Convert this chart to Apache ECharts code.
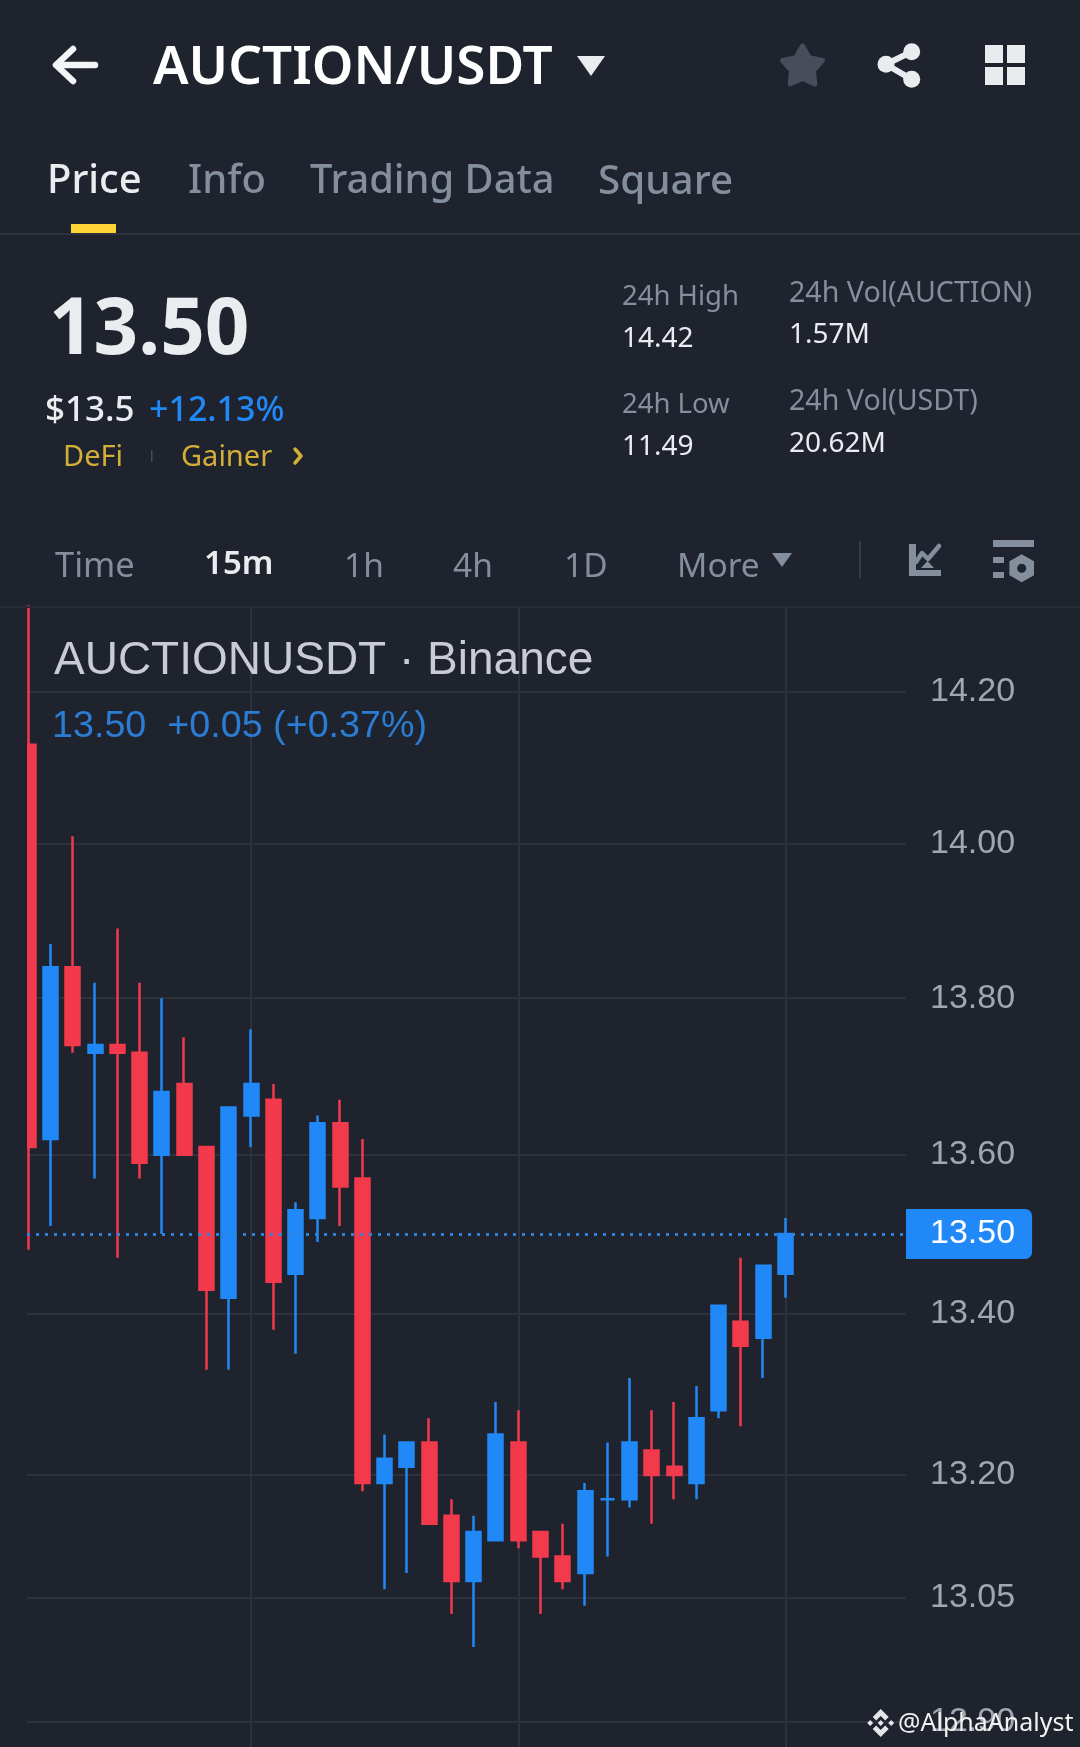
<!DOCTYPE html>
<html><head><meta charset="utf-8">
<style>html,body{margin:0;padding:0;background:#1e232e}#c{width:1080px;height:1747px}</style>
<script src="https://cdn.jsdelivr.net/npm/echarts@6/dist/echarts.min.js"></script>
</head><body><div id="c"></div>
<script>
const slots  = [0,1,2,3,4,5,6,7,8,9,10,11,12,13,14,15,16,17,18,19,20,21,22,23,24,25,26,27,28,29,30,31,32,33,34];
const opens  = [14.13,13.62,13.84,13.73,13.74,13.73,13.60,13.69,13.61,13.42,13.65,13.67,13.45,13.52,13.64,13.57,13.19,13.21,13.24,13.15,13.07,13.12,13.24,13.13,13.10,13.08,13.17,13.17,13.23,13.21,13.19,13.28,13.39,13.37,13.45];
const closes = [13.61,13.84,13.74,13.74,13.73,13.59,13.68,13.60,13.43,13.66,13.69,13.44,13.53,13.64,13.56,13.19,13.22,13.24,13.14,13.07,13.13,13.25,13.12,13.10,13.07,13.18,13.17,13.24,13.20,13.20,13.27,13.41,13.36,13.46,13.50];
const lows   = [13.48,13.51,13.73,13.57,13.47,13.57,13.50,13.60,13.33,13.33,13.61,13.38,13.35,13.49,13.51,13.18,13.06,13.08,13.14,13.03,12.99,13.12,13.11,13.03,13.06,13.04,13.10,13.16,13.14,13.17,13.17,13.27,13.26,13.32,13.42];
const highs  = [14.315,13.87,14.01,13.82,13.89,13.82,13.80,13.75,13.61,13.66,13.76,13.69,13.54,13.65,13.67,13.62,13.25,13.24,13.27,13.17,13.15,13.29,13.28,13.13,13.14,13.19,13.24,13.32,13.28,13.29,13.31,13.41,13.47,13.46,13.52];
const priceTicks = [12.9,13.05,13.2,13.4,13.6,13.8,14.0,14.2];
const timeTicks  = [10,22,34];
const lastPrice  = 13.5;

const BG='#1e232e', UP='#2089f7', DOWN='#f23a4c', GRID='#2c313c';
const SANS='"Noto Sans"', HELV='"Liberation Sans"';
const candles = slots.map((s,i)=>[s,opens[i],closes[i],lows[i],highs[i]]);

function t(x,y,text,size,fill,weight,family,align){
  return {type:'text',x,y,z:20,silent:true,style:{text,fill,font:(weight||400)+' '+size+'px '+(family||SANS),verticalAlign:'middle',align:align||'left'}};
}
function poly(points,fill){return {type:'polygon',z:20,silent:true,shape:{points},style:{fill}};}
function rect(x,y,w,h,fill,r){return {type:'rect',z:20,silent:true,shape:{x,y,width:w,height:h,r:r||0},style:{fill}};}
function line(pts,stroke,w){return {type:'polyline',z:20,silent:true,shape:{points:pts},style:{stroke,lineWidth:w,fill:'none',lineCap:'round',lineJoin:'round'}};}
function circ(cx,cy,r,fill){return {type:'circle',z:20,silent:true,shape:{cx,cy,r},style:{fill}};}

const GRAY='#848e9c', WHITE='#eaecef', GOLD='#d3ae39', ICON='#848e9c', LIGHT='#e9ebef';
const starPts=[];for(let i=0;i<10;i++){const a=-Math.PI/2+i*Math.PI/5,r=i%2?11.5:21;starPts.push([802.5+r*Math.cos(a),67+r*Math.sin(a)]);}
const star={type:'polygon',z:20,silent:true,shape:{points:starPts},style:{fill:'#474d5a',stroke:'#474d5a',lineWidth:5,lineJoin:'round'}};
const diamond=(cx,cy,r,c)=>poly([[cx,cy-r],[cx+r,cy],[cx,cy+r],[cx-r,cy]],c);
const WM='#e4e6ea', lx=880.7, ly=1723;

const graphics=[
  // left clip of the first candle
  rect(0,607,27,1140,BG),
  // header
  line([[73,49],[56,65],[73,81]],'#f4f5f7',6.5), line([[57,65],[95,65]],'#f4f5f7',6.5),
  t(153,69,'AUCTION/USDT',53,'#ffffff',600),
  poly([[577,56],[605,56],[591,76]],WHITE),
  star,
  line([[911.7,51.7],[886,64.3],[911.7,79.3]],LIGHT,6), circ(911.7,51.7,8.5,LIGHT), circ(886,64.3,8.5,LIGHT), circ(911.7,79.3,8.5,LIGHT),
  rect(985,45,18,18,LIGHT),rect(1007,45,18,18,LIGHT),rect(985,67,18,18,LIGHT),rect(1007,67,18,18,LIGHT),
  // tabs
  t(47,182,'Price',40,WHITE,500), t(188,182,'Info',40,GRAY,500), t(310,182,'Trading Data',39.8,GRAY,500), t(598,182,'Square',40.4,GRAY,500),
  rect(71,224,45,9,'#fcd535'), rect(0,233,1080,2,'#2d323c'),
  // price block
  t(49,332,'13.50',78,WHITE,700),
  t(45,411,'$13.5',35,WHITE,500), t(149,411,'+12.13%',34,UP,500),
  t(63,458,'DeFi',29,GOLD), rect(151,450,1.5,12,'#474d57'), t(181,458,'Gainer',29,GOLD),
  line([[295,449],[301,456],[295,463]],GOLD,3.5),
  t(622,297,'24h High',27.5,GRAY), t(622,339,'14.42',28,WHITE), t(622,405,'24h Low',27.5,GRAY), t(622,447,'11.49',28,WHITE),
  t(789,294,'24h Vol(AUCTION)',28.6,GRAY), t(789,335,'1.57M',28,WHITE), t(789,402,'24h Vol(USDT)',28.6,GRAY), t(789,444,'20.62M',28,WHITE),
  // timeframes
  t(55,567,'Time',34.5,GRAY), t(204,565,'15m',33,WHITE,600), t(344,567,'1h',33.5,GRAY), t(453,567,'4h',33.5,GRAY), t(564,567,'1D',33.5,GRAY), t(677,567,'More',33.5,GRAY),
  poly([[772,553],[792,553],[782,567]],GRAY),
  rect(859,541,2,37,'#363b46'),
  rect(909,544,7,32,ICON), rect(909,570,32,6,ICON), line([[916,562],[922,553],[928,559],[939,546]],ICON,4.5), poly([[921,568],[934,568],[927.5,561]],ICON),
  rect(993,540,41,7,ICON), rect(993,557,11,6,ICON), rect(993,572,11,6,ICON),
  poly([[1021.7,554.3],[1034,561.3],[1034,575.3],[1021.7,582.3],[1009.4,575.3],[1009.4,561.3]],ICON), circ(1021.7,568.3,4.5,BG),
  rect(0,606,1080,2,'#252a35'),
  // chart legend
  t(54,661,'AUCTIONUSDT · Binance',46,'#c9cdd3',400,HELV),
  t(52,727,'13.50  +0.05 (+0.37%)',37.7,'#2b7cd3',400,HELV),
  // watermark
  poly([[lx,ly-14],[lx+8,ly-6],[lx+4.5,ly-2.5],[lx,ly-7],[lx-4.5,ly-2.5],[lx-8,ly-6]],WM),
  poly([[lx,ly+14],[lx+8,ly+6],[lx+4.5,ly+2.5],[lx,ly+7],[lx-4.5,ly+2.5],[lx-8,ly+6]],WM),
  diamond(lx,ly,3,WM), diamond(lx-10.5,ly,3,WM), diamond(lx+10.5,ly,3,WM),
  t(898,1724,'@AlphaAnalyst',25,'#f2f2f2',400)
];

const chart=echarts.init(document.getElementById('c'),null,{renderer:'canvas'});
chart.setOption({
  animation:false,
  backgroundColor:BG,
  grid:{left:27,right:174,top:607,bottom:0,containLabel:false},
  xAxis:{type:'value',min:-0.058,max:39.41,
    axisLine:{show:false},axisLabel:{show:false},
    axisTick:{show:false,customValues:timeTicks},
    splitLine:{show:true,lineStyle:{color:GRID,width:2}}},
  yAxis:{type:'log',logBase:10,min:12.8694,max:14.3127,position:'right',scale:true,
    axisLine:{show:false},
    axisTick:{show:false,customValues:priceTicks},
    axisLabel:{show:true,customValues:priceTicks,margin:24,color:'#a2a6ae',fontFamily:HELV,fontSize:34,
      formatter:v=>Number(v).toFixed(2)},
    splitLine:{show:true,lineStyle:{color:GRID,width:2}}},
  series:[{
    type:'candlestick',data:candles,barWidth:14.5,
    itemStyle:{color:UP,color0:DOWN,borderColor:UP,borderColor0:DOWN,borderColorDoji:UP,borderWidth:2.5},
    markLine:{silent:true,symbol:'none',animation:false,
      lineStyle:{color:'#2f82dc',type:[3,6],width:3},
      label:{show:true,position:'end',distance:0,formatter:()=>lastPrice.toFixed(2),color:'#ffffff',fontFamily:HELV,fontSize:34,
        backgroundColor:UP,borderRadius:[0,7,7,0],padding:[9,17,7,24]},
      data:[{yAxis:lastPrice}]}
  }],
  graphic:{elements:graphics}
});
</script></body></html>
